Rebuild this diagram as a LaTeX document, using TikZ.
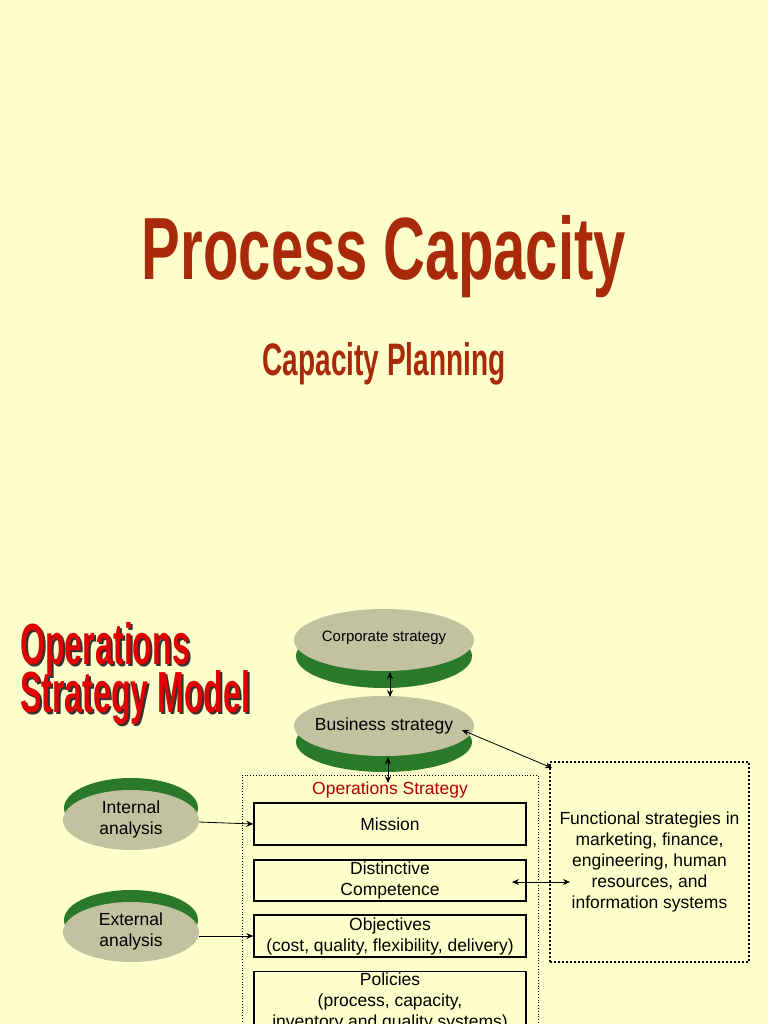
\documentclass[tikz,border=0pt]{standalone}
\usepackage{fontspec}
\setmainfont{Liberation Sans}
\usetikzlibrary{arrows.meta}
\definecolor{bg}{HTML}{FFFFCC}
\definecolor{tred}{HTML}{A82A0A}
\definecolor{disk}{HTML}{C2C2A0}
\definecolor{rim}{HTML}{2A7A2A}
\definecolor{bred}{HTML}{E00000}
\tikzset{
 box/.style={draw,line width=1.3pt,minimum width=272pt,align=center,font=\fontsize{17.5}{21}\selectfont,inner sep=1pt},
 lbl/.style={font=\fontsize{17.5}{21}\selectfont,align=center},
 arr/.style={-{Stealth[length=7pt,width=6pt]},line width=0.8pt},
 darr/.style={{Stealth[length=7pt,width=6pt]}-{Stealth[length=7pt,width=6pt]},line width=0.8pt},
}
\begin{document}
\begin{tikzpicture}[x=1pt,y=-1pt]
\fill[bg] (0,0) rectangle (768,1024);
\useasboundingbox (0,0) rectangle (768,1024);
\node (title) at (384,257) {\color{tred}\resizebox{484pt}{64pt}{\bfseries Process Capacity}};
\node (sub) at (384,364) {\color{tred}\resizebox{243pt}{33pt}{\bfseries Capacity Planning}};
\node[anchor=north west,inner sep=0] (osm1s) at (22,624) {\color{black!80}\resizebox{170pt}{42pt}{\bfseries Operations}};
\node[anchor=north west,inner sep=0] (osm1) at (20,622) {\color{bred}\resizebox{170pt}{42pt}{\bfseries Operations}};
\node[anchor=north west,inner sep=0] (osm2s) at (22,672) {\color{black!80}\resizebox{230pt}{42pt}{\bfseries Strategy Model}};
\node[anchor=north west,inner sep=0] (osm2) at (20,670) {\color{bred}\resizebox{230pt}{42pt}{\bfseries Strategy Model}};
% ellipses
\fill[rim] (384,656) ellipse (88 and 32);
\fill[disk] (384,640) ellipse (90 and 31);
\node[lbl,font=\fontsize{15}{18}\selectfont] (corp) at (384,638) {Corporate strategy};
\fill[rim] (384,742) ellipse (88 and 30);
\fill[disk] (384,726) ellipse (90 and 30);
\node[lbl] (bus) at (384,726) {Business strategy};
\fill[rim] (131,808) ellipse (67 and 30);
\fill[disk] (131,820) ellipse (68 and 30);
\node[lbl] (int) at (131,819) {Internal\\analysis};
\fill[rim] (131,920) ellipse (67 and 30);
\fill[disk] (131,932) ellipse (68 and 30);
\node[lbl] (ext) at (131,931) {External\\analysis};
% ops box
\draw[dotted,line width=0.8pt] (242,1030) -- (242,775) -- (538,775) -- (538,1030);
\node[lbl,text=bred!80!black] (ops) at (390,790) {Operations Strategy};
\node[box,minimum height=42pt] (mis) at (390,824) {Mission};
\node[box,minimum height=41pt] (dis) at (390,880.5) {Distinctive\\Competence};
\node[box,minimum height=42pt] (obj) at (390,936) {Objectives\\(cost, quality, flexibility, delivery)};
\node[box,minimum height=60pt,anchor=north] (pol) at (390,971) {Policies\\(process, capacity,\\inventory and quality systems)};
\node[lbl,draw,dotted,line width=2pt,minimum width=199pt,minimum height=200pt] (fun) at (649.5,862) {Functional strategies in\\marketing, finance,\\engineering, human\\resources, and\\information systems};
\coordinate (c1) at (390,672); \coordinate (c2) at (390,697);
\draw[darr] (c1) -- (c2);
\coordinate (b1) at (388,757); \coordinate (b2) at (388,783);
\draw[darr] (b1) -- (b2);
\coordinate (b3) at (462,730); \coordinate (f1) at (552,768);
\draw[darr] (b3) -- (f1);
\coordinate (i1) at (199,822); \draw[arr] (i1) -- (mis.west);
\coordinate (e1) at (199,936); \draw[arr] (e1) -- (obj.west);
\coordinate (d1) at (512,882); \coordinate (d2) at (570,882);
\draw[darr] (d1) -- (d2);
\end{tikzpicture}
\end{document}
